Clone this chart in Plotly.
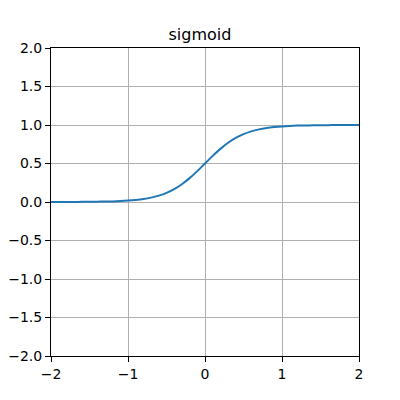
import plotly.graph_objects as go

x_vals = [round(-2 + 0.1 * i, 1) for i in range(41)]
y_pos = [0.5, 0.599, 0.690, 0.769, 0.832, 0.881, 0.917, 0.943, 0.961, 0.973,
         0.982, 0.988, 0.992, 0.994, 0.996, 0.9975, 0.998, 0.999, 0.999, 0.9995, 0.9997]
y_vals = [round(1 - v, 4) for v in y_pos[:0:-1]] + y_pos

x_ticks = [-2, -1, 0, 1, 2]
x_ticktext = ["−2", "−1", "0", "1", "2"]
y_ticks = [-2.0, -1.5, -1.0, -0.5, 0.0, 0.5, 1.0, 1.5, 2.0]
y_ticktext = [("−" if v < 0 else "") + f"{abs(v):.1f}" for v in y_ticks]

fig = go.Figure()
fig.add_trace(go.Scatter(x=x_vals, y=y_vals, mode="lines",
                         line=dict(color="#1f77b4", width=2, shape="spline"),
                         hoverinfo="skip"))

axis_common = dict(showline=True, linecolor="black", linewidth=1, mirror=True,
                   ticks="outside", ticklen=5, tickwidth=1, tickcolor="black",
                   showgrid=True, gridcolor="#b0b0b0", gridwidth=1,
                   zeroline=False, automargin=False,
                   tickfont=dict(family="DejaVu Sans", size=14, color="black"))

fig.update_layout(
    width=400, height=400,
    margin=dict(l=51, r=41, t=48, b=44, autoexpand=False),
    paper_bgcolor="white", plot_bgcolor="white",
    showlegend=False,
    title=dict(text="sigmoid", x=0.5, xanchor="center", y=1 - 34 / 400, yanchor="middle",
               font=dict(family="DejaVu Sans", size=16, color="black")),
    xaxis=dict(range=[-2, 2], tickvals=x_ticks, ticktext=x_ticktext, **axis_common),
    yaxis=dict(range=[-2, 2], tickvals=y_ticks, ticktext=y_ticktext, **axis_common),
)

fig.write_html("out.html", config={"displayModeBar": False},
               post_script="document.body.style.margin='0';")
